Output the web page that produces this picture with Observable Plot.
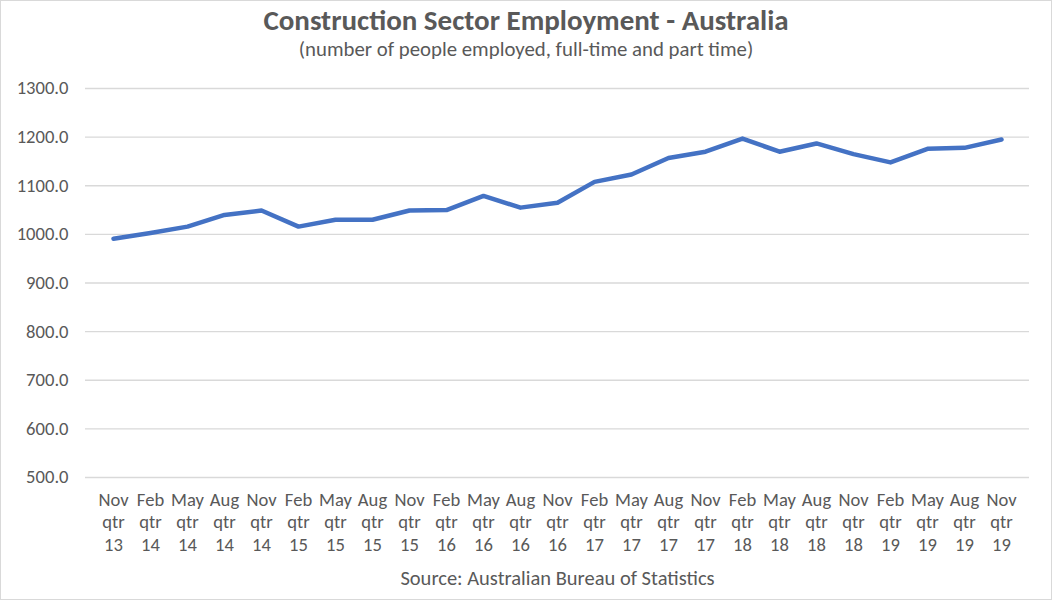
<!DOCTYPE html>
<html>
<head>
<meta charset="utf-8">
<script src="https://cdn.jsdelivr.net/npm/d3@7"></script>
<script src="https://cdn.jsdelivr.net/npm/@observablehq/plot@0.6"></script>
<style>
  html, body { margin: 0; padding: 0; background: #fff; }
  #wrap { position: relative; width: 1052px; height: 600px; overflow: hidden; background: #fff; }
  #border { position: absolute; left: 0; top: 0; width: 1052px; height: 600px; box-sizing: border-box; border: 1px solid #d9d9d9; pointer-events: none; }
  #title { position: absolute; left: 0; width: 1052px; top: 4px; text-align: center;
           font-family: "Carlito", "Liberation Sans Narrow", "Liberation Sans", sans-serif; font-weight: bold;
           font-size: 29px; color: #595959; line-height: 32px; }
  #subtitle { position: absolute; left: 0; width: 1052px; top: 37px; text-align: center;
           font-family: "Carlito", "Liberation Sans Narrow", "Liberation Sans", sans-serif;
           font-size: 20.8px; font-weight: 300; color: #595959; line-height: 24px; }
  #chart { position: absolute; left: 0; top: 70px; }
</style>
</head>
<body>
<div id="wrap">
  <div id="title">Construction Sector Employment - Australia</div>
  <div id="subtitle">(number of people employed, full-time and part time)</div>
  <div id="chart"></div>
  <div id="border"></div>
</div>
<script>
const quarters = ["Nov qtr 13","Feb qtr 14","May qtr 14","Aug qtr 14","Nov qtr 14","Feb qtr 15","May qtr 15","Aug qtr 15","Nov qtr 15","Feb qtr 16","May qtr 16","Aug qtr 16","Nov qtr 16","Feb qtr 17","May qtr 17","Aug qtr 17","Nov qtr 17","Feb qtr 18","May qtr 18","Aug qtr 18","Nov qtr 18","Feb qtr 19","May qtr 19","Aug qtr 19","Nov qtr 19"];
const employed = [991,1003,1016,1040,1049,1016,1030,1030,1049,1050,1079,1055,1065,1108,1123,1157,1170,1197,1170,1187,1165,1148,1176,1178,1195];
const yTicks = [500,600,700,800,900,1000,1100,1200,1300];
const sourceText = "Source: Australian Bureau of Statistics";

const data = quarters.map((q, i) => ({quarter: q, value: employed[i]}));
const font = "Carlito, 'Liberation Sans', sans-serif";

const chart = Plot.plot({
  width: 1052,
  height: 530,
  marginLeft: 85,
  marginRight: 23,
  marginTop: 18,
  marginBottom: 123,
  style: {fontFamily: font, fontSize: "18.6px", color: "#595959", background: "transparent"},
  x: {type: "point", domain: quarters, padding: 0.5, label: null},
  y: {domain: [500, 1300], label: null},
  marks: [
    Plot.ruleY(yTicks, {stroke: "#d9d9d9", strokeWidth: 1.3}),
    Plot.axisY(yTicks, {tickSize: 0, tickPadding: 17, tickFormat: d3.format(".1f"), fill: "#595959", fontSize: 18.6, label: null}),
    Plot.axisX({tickSize: 0, tickPadding: 12, tickFormat: d => d.replace(/ /g, "\n"), lineHeight: 1.226, fill: "#595959", fontSize: 18.6, label: null}),
    Plot.line(data, {x: "quarter", y: "value", stroke: "#4472C4", strokeWidth: 4.5, strokeLinejoin: "round", strokeLinecap: "round"}),
    Plot.text([sourceText], {frameAnchor: "bottom", text: d => d, dy: 101, fill: "#595959", fontSize: 20.5, lineAnchor: "middle"})
  ]
});
document.getElementById("chart").appendChild(chart);
</script>
</body>
</html>
